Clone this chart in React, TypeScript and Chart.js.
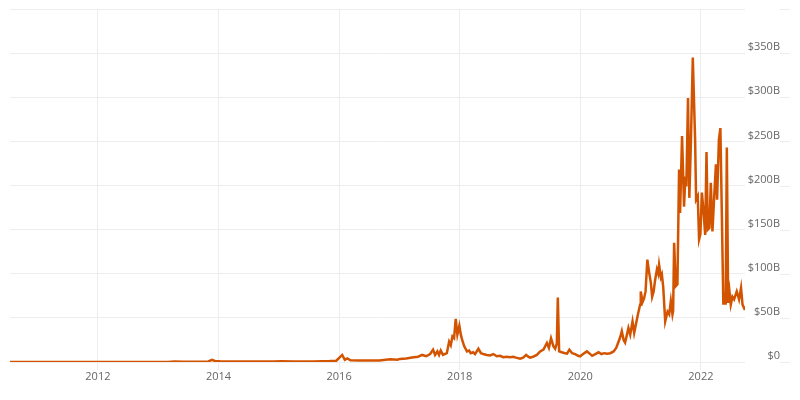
import React, { useEffect, useRef } from "react";
import { Chart, registerables } from "chart.js";

Chart.register(...registerables);

const dates: string[] = [
  "2010-07-18", "2010-10-01", "2011-01-01", "2011-04-01", "2011-06-15", "2011-09-01",
  "2012-01-01", "2012-04-01", "2012-08-15", "2012-12-01", "2013-03-01", "2013-04-10",
  "2013-06-01", "2013-09-01", "2013-11-01", "2013-11-23", "2013-12-10", "2014-01-10",
  "2014-03-01", "2014-06-01", "2014-09-01", "2014-12-01", "2015-01-15", "2015-04-01",
  "2015-08-01", "2015-11-05", "2015-12-15", "2016-01-20", "2016-02-05", "2016-02-20",
  "2016-03-10", "2016-05-01", "2016-07-01", "2016-09-01", "2016-11-06", "2016-12-20",
  "2017-01-05", "2017-02-11", "2017-03-18", "2017-04-24", "2017-05-19", "2017-06-12",
  "2017-07-06", "2017-07-24", "2017-08-05", "2017-08-19", "2017-08-29", "2017-09-08",
  "2017-09-22", "2017-10-15", "2017-10-29", "2017-11-08", "2017-11-18", "2017-11-28",
  "2017-12-08", "2017-12-18", "2017-12-30", "2018-01-08", "2018-01-16", "2018-01-28",
  "2018-02-14", "2018-02-27", "2018-03-09", "2018-03-23", "2018-04-04", "2018-04-24",
  "2018-05-10", "2018-05-24", "2018-06-14", "2018-07-04", "2018-07-24", "2018-08-13",
  "2018-09-03", "2018-09-21", "2018-10-13", "2018-11-02", "2018-11-21", "2018-12-08",
  "2019-01-02", "2019-01-20", "2019-02-07", "2019-02-20", "2019-03-03", "2019-03-21",
  "2019-04-13", "2019-05-03", "2019-05-23", "2019-06-13", "2019-06-25", "2019-07-08",
  "2019-07-22", "2019-08-02", "2019-08-12", "2019-08-18", "2019-08-26", "2019-09-11",
  "2019-10-01", "2019-10-13", "2019-10-27", "2019-11-13", "2019-12-01", "2019-12-19",
  "2019-12-31", "2020-01-18", "2020-02-10", "2020-02-24", "2020-03-13", "2020-04-01",
  "2020-04-21", "2020-05-08", "2020-05-26", "2020-06-13", "2020-07-01", "2020-07-21",
  "2020-08-06", "2020-08-20", "2020-08-30", "2020-09-09", "2020-09-20", "2020-09-29",
  "2020-10-09", "2020-10-19", "2020-10-30", "2020-11-13", "2020-11-23", "2020-12-05",
  "2020-12-17", "2020-12-29", "2021-01-02", "2021-01-13", "2021-01-22", "2021-01-31",
  "2021-02-11", "2021-02-22", "2021-03-04", "2021-03-12", "2021-03-21", "2021-03-30",
  "2021-04-10", "2021-04-18", "2021-04-23", "2021-05-04", "2021-05-10", "2021-05-18",
  "2021-05-30", "2021-06-13", "2021-06-23", "2021-07-03", "2021-07-13", "2021-07-17",
  "2021-07-23", "2021-08-02", "2021-08-12", "2021-08-22", "2021-08-28", "2021-09-09",
  "2021-09-21", "2021-09-29", "2021-10-05", "2021-10-15", "2021-10-23", "2021-11-01",
  "2021-11-13", "2021-11-27", "2021-12-03", "2021-12-13", "2021-12-21", "2021-12-29",
  "2022-01-07", "2022-01-16", "2022-01-27", "2022-02-04", "2022-02-12", "2022-02-22",
  "2022-03-02", "2022-03-12", "2022-03-22", "2022-04-02", "2022-04-09", "2022-04-20",
  "2022-04-29", "2022-05-17", "2022-05-25", "2022-05-31", "2022-06-07", "2022-06-15",
  "2022-06-23", "2022-07-01", "2022-07-11", "2022-07-21", "2022-08-06", "2022-08-20",
  "2022-09-01", "2022-09-10", "2022-09-25",
];

const volumes: number[] = [
  0, 0.0003, 0.002, 0.01, 0.1, 0.03,
  0.01, 0.02, 0.05, 0.03, 0.1, 0.6,
  0.2, 0.2, 0.6, 2.5, 1.2, 0.9,
  0.7, 0.5, 0.5, 0.5, 0.9, 0.5,
  0.6, 1.0, 1.4, 8, 2.5, 4,
  2, 1.7, 1.8, 1.6, 3, 2.5,
  3.5, 4, 5, 6, 8, 6.5,
  9, 14, 8, 12, 8, 13,
  8, 10, 23, 19, 29, 27,
  49, 31, 41, 31, 25, 18,
  12, 13, 10, 11, 9, 15,
  10, 9, 8, 7.5, 9, 6.5,
  7, 5.5, 6, 5.5, 6, 5,
  3.8, 5, 8, 6, 5, 6,
  8, 12, 14, 21.5, 16, 27,
  18, 15, 21, 73, 12, 11,
  10, 9.5, 14, 10, 9, 7,
  6.4, 9, 12, 10, 7, 9,
  11, 9, 10, 9.5, 10, 12,
  16, 23, 28, 35, 25, 22,
  30, 38.6, 31, 46, 33, 44,
  55, 65, 80, 68, 72, 80,
  116, 101, 90, 74, 80, 93,
  105, 100, 110, 96, 99, 85,
  46, 57, 54, 69, 54, 58,
  135, 86, 88, 218, 169, 256,
  176, 210, 199, 299, 186, 245,
  345, 252, 184, 188, 139, 145,
  192, 173, 144, 238, 150, 152,
  203, 148, 185, 224, 184, 252,
  265, 65, 79, 65, 243, 67,
  80, 65, 74, 71, 80, 71,
  84, 65, 59,
];

const yearTicks: number[] = [2012, 2014, 2016, 2018, 2020, 2022];
const yMax = 400;
const yStep = 50;

const toYear = (s: string): number => {
  const t = Date.parse(s + "T00:00:00Z");
  const y = new Date(t).getUTCFullYear();
  const start = Date.UTC(y, 0, 1);
  const end = Date.UTC(y + 1, 0, 1);
  return y + (t - start) / (end - start);
};

const GRID = "#ededed";

const rightGridStubs = {
  id: "rightGridStubs",
  afterDraw(chart: any) {
    const ys = chart.scales.y;
    const ctx = chart.ctx;
    ctx.save();
    ctx.strokeStyle = GRID;
    ctx.lineWidth = 1;
    ys.ticks.forEach((t: any) => {
      const py = Math.round(ys.getPixelForValue(t.value)) + 0.5;
      ctx.beginPath();
      ctx.moveTo(ys.right, py);
      ctx.lineTo(ys.right + 10, py);
      ctx.stroke();
    });
    ctx.restore();
  },
};

export default function App() {
  const ref = useRef<HTMLCanvasElement | null>(null);

  useEffect(() => {
    if (!ref.current) return;
    Chart.defaults.font.family = "'Open Sans', sans-serif";
    const points = dates.map((d, i) => ({ x: toYear(d), y: volumes[i] }));
    const xMin = toYear(dates[0]);
    const xMax = toYear(dates[dates.length - 1]);
    const chart = new Chart(ref.current, {
      type: "line",
      data: {
        datasets: [
          {
            data: points,
            borderColor: "#d35400",
            borderWidth: 2.5,
            pointRadius: 0,
            tension: 0,
            fill: false,
          },
        ],
      },
      options: {
        animation: false,
        responsive: true,
        maintainAspectRatio: false,
        layout: { padding: { left: 10, top: 9, right: 20, bottom: 0 } },
        plugins: { legend: { display: false }, tooltip: { enabled: false } },
        scales: {
          x: {
            type: "linear",
            min: xMin,
            max: xMax,
            border: { display: false },
            grid: { color: GRID, drawTicks: true, tickLength: 8 },
            afterBuildTicks: (scale: any) => {
              scale.ticks = yearTicks.map((v) => ({ value: v }));
            },
            afterFit: (scale: any) => {
              scale.height = 38;
            },
            ticks: {
              color: "#666",
              font: { size: 11 },
              padding: 0,
              maxRotation: 0,
              callback: (v: any) => String(v),
            },
          },
          y: {
            position: "right",
            min: 0,
            max: yMax,
            border: { display: false },
            grid: { color: GRID, drawTicks: false },
            afterFit: (scale: any) => {
              scale.width = 35;
            },
            ticks: {
              stepSize: yStep,
              color: "#666",
              font: { size: 11 },
              padding: 0,
              crossAlign: "far",
              labelOffset: -6,
              callback: (v: any) => (v >= yMax ? "" : v === 0 ? "$0" : `$${v}B`),
            },
          },
        },
      },
      plugins: [rightGridStubs],
    });
    return () => chart.destroy();
  }, []);

  return (
    <div style={{ position: "absolute", left: 0, top: 0, width: 800, height: 400 }}>
      <canvas ref={ref} />
    </div>
  );
}
